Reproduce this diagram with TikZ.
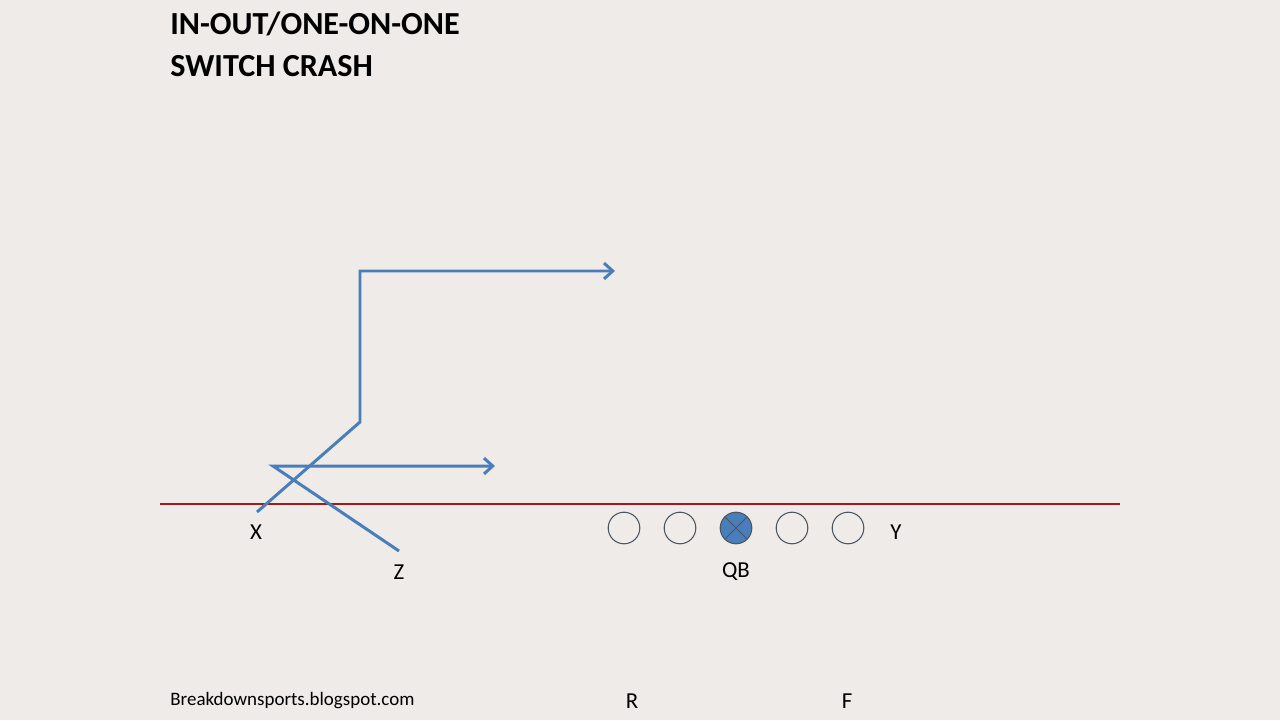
\documentclass[tikz,border=0pt]{standalone}
\usepackage{fontspec}
\setmainfont{Carlito}
\usepackage{xcolor}
\usetikzlibrary{arrows.meta, positioning}
\definecolor{fieldbg}{HTML}{EEEBE8}
\definecolor{routeblue}{HTML}{4A7EBB}
\definecolor{losred}{HTML}{A31A1A}
\definecolor{ringgray}{HTML}{4A5560}

\tikzset{
  route/.style={draw=routeblue, line width=1.7pt},
  player/.style={circle, draw=ringgray, line width=0.6pt, minimum size=18pt, inner sep=0pt},
  lbl/.style={font=\fontsize{13}{15}\selectfont, inner sep=0pt},
}

\begin{document}
\begin{tikzpicture}[x=0.02cm, y=-0.02cm]
  % field
  \fill[fieldbg] (0,0) rectangle (1280,720);
  \useasboundingbox (0,0) rectangle (1280,720);

  % title
  \node[anchor=west, font=\fontsize{18.3}{22}\selectfont\bfseries, inner sep=0pt] (title1) at (170,24) {IN-OUT/ONE-ON-ONE};
  \node[anchor=west, font=\fontsize{18.3}{22}\selectfont\bfseries, inner sep=0pt] (title2) at (170,66) {SWITCH CRASH};

  % line of scrimmage
  \coordinate (losL) at (160,504);
  \coordinate (losR) at (1120,504);
  \draw[losred, line width=0.6pt] (losL) -- (losR);

  % line
  \node[player] (lt) at (624,528) {};
  \node[player] (lg) at (680,528) {};
  \node[player, fill=routeblue, path picture={
      \draw[ringgray, line width=0.5pt] (path picture bounding box.north west) -- (path picture bounding box.south east)
        (path picture bounding box.north east) -- (path picture bounding box.south west);}] (ctr) at (736,528) {};
  \node[player] (rg) at (792,528) {};
  \node[player] (rt) at (848,528) {};

  % players
  \node[lbl] (x) at (256,532) {X};
  \node[lbl] (z) at (399,572) {Z};
  \node[lbl] (y) at (896,532) {Y};
  \node[lbl] (qb) at (736,572) {QB};
  \node[lbl] (r) at (632,701) {R};
  \node[lbl] (f) at (847,701) {F};
  \node[anchor=west, font=\fontsize{10.8}{13}\selectfont, inner sep=0pt] (blog) at (170,701) {Breakdownsports.blogspot.com};

  % X route
  \coordinate (xs) at (257,512);
  \coordinate (xb) at (360,422);
  \coordinate (xc) at (360,271);
  \coordinate (xe) at (615,271);
  \draw[route, -{Straight Barb[length=5pt, width=9pt]}] (xs) -- (xb) -- (xc) -- (xe);

  % Z route
  \coordinate (zs) at (399,551);
  \coordinate (zb) at (273,466);
  \coordinate (ze) at (495,466);
  \draw[route, -{Straight Barb[length=5pt, width=9pt]}] (zs) -- (zb) -- (ze);
\end{tikzpicture}
\end{document}
